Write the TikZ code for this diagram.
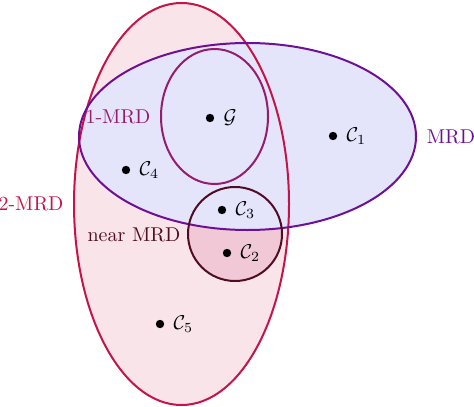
\documentclass[tikz,border=0pt]{standalone}
\usetikzlibrary{positioning}
\definecolor{tworim}{RGB}{196,20,72}
\definecolor{mrdrim}{RGB}{110,16,150}
\definecolor{onerim}{RGB}{150,28,110}
\definecolor{nearrim}{RGB}{80,12,36}
\definecolor{mrdfill}{RGB}{228,228,250}
\definecolor{twofill}{RGB}{249,228,234}
\definecolor{nearfill}{RGB}{240,200,214}
\tikzset{
  dot/.style={circle, fill=black, inner sep=0pt, minimum size=4.2pt},
  rim/.style={line width=1pt},
}
\begin{document}
\begin{tikzpicture}[x=0.5pt, y=-0.5pt]
  \useasboundingbox (0,0) rectangle (474,406);
  \coordinate (TWO) at (181.5,204);
  \coordinate (MRD) at (247.5,136.5);
  \coordinate (ONE) at (214.5,116.5);
  \coordinate (NEAR) at (235,234);
  \fill[twofill] (TWO) ellipse [x radius=53.75pt, y radius=100.5pt];
  \fill[nearfill] (NEAR) circle [radius=23.5pt];
  \fill[mrdfill] (MRD) ellipse [x radius=84.25pt, y radius=46.75pt];
  \draw[rim, tworim] (TWO) ellipse [x radius=53.75pt, y radius=100.5pt];
  \draw[rim, mrdrim] (MRD) ellipse [x radius=84.25pt, y radius=46.75pt];
  \draw[rim, onerim] (ONE) ellipse [x radius=26.75pt, y radius=33.75pt];
  \draw[rim, nearrim] (NEAR) circle [radius=23.5pt];
  \node[onerim] (L1) at (118,117) {1-MRD};
  \node[mrdrim] (LM) at (451,137) {MRD};
  \node[tworim] (L2) at (31,204) {2-MRD};
  \node[nearrim] (LN) at (134,235) {near MRD};
  \node[dot, label={[label distance=1pt]right:$\mathcal{G}$}] (G) at (210,118) {};
  \node[dot, label={[label distance=1pt]right:$\mathcal{C}_1$}] (C1) at (333,136) {};
  \node[dot, label={[label distance=1pt]right:$\mathcal{C}_2$}] (C2) at (227,253) {};
  \node[dot, label={[label distance=1pt]right:$\mathcal{C}_3$}] (C3) at (222,210) {};
  \node[dot, label={[label distance=1pt]right:$\mathcal{C}_4$}] (C4) at (126,170) {};
  \node[dot, label={[label distance=1pt]right:$\mathcal{C}_5$}] (C5) at (160,324) {};
\end{tikzpicture}
\end{document}
